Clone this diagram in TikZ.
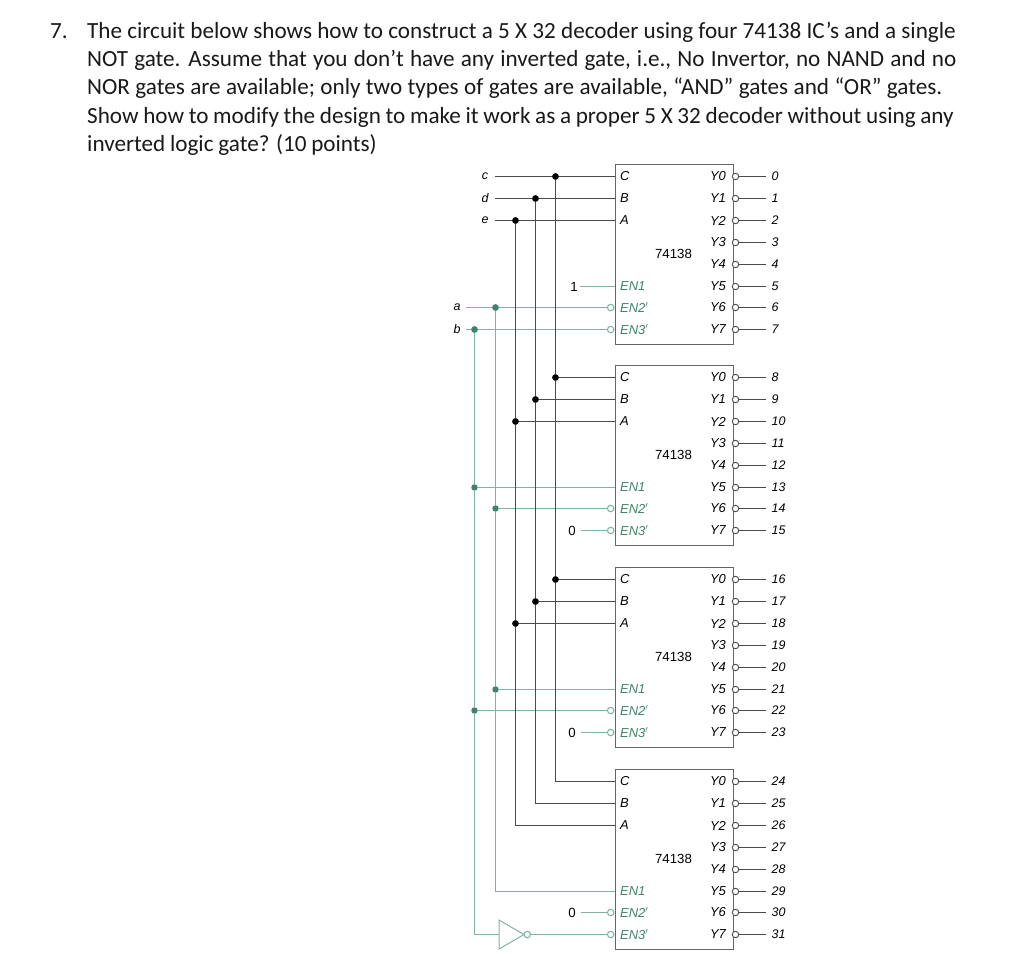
\documentclass[tikz,border=0pt]{standalone}
\usepackage{fontspec}
\setmainfont{Carlito}
\newfontfamily\helv{Liberation Sans}
\definecolor{wgreen}{HTML}{7FB5A0}
\definecolor{dgreen}{HTML}{3F8468}
\definecolor{wgray}{HTML}{4A4A4A}
\tikzset{
  chipbox/.style={draw=wgray!85,line width=1bp,fill=white,minimum width=118bp,minimum height=180bp,inner sep=0pt,anchor=north west},
  blk/.style={draw=wgray,line width=1bp},
  grn/.style={draw=wgreen,line width=1bp},
  bdot/.style={circle,fill=black,inner sep=0pt,minimum size=6.5pt},
  gdot/.style={circle,fill=dgreen,inner sep=0pt,minimum size=6.5pt},
  bubK/.style={circle,draw=wgray,fill=white,line width=0.9pt,inner sep=0pt,minimum size=6.5pt},
  bubG/.style={circle,draw=wgreen,fill=white,line width=1.1pt,inner sep=0pt,minimum size=6.5pt},
  sig/.style={font=\helv\fontsize{12.5}{14}\selectfont\itshape,inner sep=0pt},
  pinl/.style={sig,anchor=west,font=\helv\fontsize{13}{15}\selectfont\itshape},
  enl/.style={sig,anchor=west,text=dgreen,font=\helv\fontsize{13}{15}\selectfont\itshape},
  yl/.style={sig,font=\helv\fontsize{13}{15}\selectfont\itshape},
  plain/.style={font=\helv\fontsize{13.3}{15}\selectfont,inner sep=0pt},
  para/.style={font=\fontsize{23.24}{28}\selectfont,anchor=base west,inner sep=0pt,text=black!90},
}
\begin{document}
\begin{tikzpicture}[x=1bp,y=-1bp]
\useasboundingbox (0,0) rectangle (1024,954);
% heading text
\node[para] (n7) at (50,38) {7.};
\node[para] (p1) at (87,38) {The circuit below shows how to construct a 5 X 32 decoder using four 74138 IC’s and a single};
\node[para] (p2) at (87,66) {\spaceskip=6.2pt NOT gate. Assume that you don’t have any inverted gate, i.e., No Invertor, no NAND and no};
\node[para] (p3) at (87,94) {\spaceskip=5.45pt NOR gates are available; only two types of gates are available, “AND” gates and “OR” gates.};
\node[para] (p4) at (87,123) {\spaceskip=4.7pt Show how to modify the design to make it work as a proper 5 X 32 decoder without using any};
\node[para] (p5) at (87,151) {\spaceskip=4.8pt inverted logic gate? (10 points)};
% chips and pins
\foreach \n/\t in {1/163.5,2/364.5,3/566.5,4/768.5}{
  \node[chipbox] (chip\n) at (614.5,\t) {};
  \node[plain] (name\n) at (673.5,\t+90) {74138};
  \coordinate (\n C) at (614.5,\t+13);
  \coordinate (\n B) at (614.5,\t+35);
  \coordinate (\n A) at (614.5,\t+57);
  \coordinate (\n E1) at (614.5,\t+123);
  \coordinate (\n E2) at (614.5,\t+144);
  \coordinate (\n E3) at (614.5,\t+166);
  \node[pinl] (lC\n) at (620,\t+13) {C};
  \node[pinl] (lB\n) at (620,\t+35) {B};
  \node[pinl] (lA\n) at (620,\t+57) {A};
  \node[enl] (lE1\n) at (620,\t+123) {EN1};
  \node[enl] (lE2\n) at (620,\t+144) {EN2$'$};
  \node[enl] (lE3\n) at (620,\t+166) {EN3$'$};
  \node[bubG] (b2\n) at (610.7,\t+144) {};
  \node[bubG] (b3\n) at (610.7,\t+166) {};
  \foreach \k/\o in {0/13,1/35,2/57,3/79,4/101,5/123,6/144,7/166}{
    \pgfmathtruncatemacro{\num}{(\n-1)*8+\k}
    \node[yl] (y\n\k) at (718,\t+\o) {Y\k};
    \node[bubK] (yb\n\k) at (735.5,\t+\o) {};
    \node[sig,anchor=west] (out\num) at (771.5,\t+\o) {\num};
    \coordinate (oute\num) at (766,\t+\o);
    \draw[blk] (yb\n\k) -- (oute\num);
  }
}
% input labels and free ends
\node[sig] (lc) at (485,176.5) {c};
\node[sig] (ld) at (485,198.5) {d};
\node[sig] (le) at (485,220.5) {e};
\node[sig] (la) at (457,307.5) {a};
\node[sig] (lb) at (457,329.5) {b};
\coordinate (wc) at (495,176.5);
\coordinate (wd) at (495,198.5);
\coordinate (we) at (495,220.5);
\coordinate (wa) at (466,307.5);
\coordinate (wb) at (466,329.5);
% green buses first
\node[gdot] (ga1) at (495.5,307.5) {};
\node[gdot] (gb1) at (474.5,329.5) {};
\node[gdot] (gb2) at (474.5,487.5) {};
\node[gdot] (ga2) at (495.5,508.5) {};
\node[gdot] (ga3) at (495.5,689.5) {};
\node[gdot] (gb3) at (474.5,710.5) {};
\coordinate (ga4) at (495.5,891.5);
\coordinate (gb4) at (474.5,934.5);
\node[bubG] (invb) at (527.3,934.5) {};
\coordinate (invt) at (499,920);
\coordinate (invm) at (499,934.5);
\coordinate (invp) at (524,934.5);
\coordinate (invd) at (499,949);
\draw[grn] (wa) -- (b21);
\draw[grn] (wb) -- (b31);
\draw[grn] (gb1) -- (gb2) -- (gb3) -- (gb4) -- (invm);
\draw[grn] (ga1) -- (ga2) -- (ga3) -- (ga4) -- (4E1);
\draw[grn] (gb2) -- (2E1);
\draw[grn] (ga2) -- (b22);
\draw[grn] (ga3) -- (3E1);
\draw[grn] (gb3) -- (b23);
\draw[grn,fill=white] (invt) -- (invp) -- (invd) -- cycle;
\draw[grn] (invb) -- (b34);
% black buses
\node[bdot] (dc1) at (555.5,176.5) {};
\node[bdot] (dd1) at (535.5,198.5) {};
\node[bdot] (de1) at (515.5,220.5) {};
\node[bdot] (dc2) at (555.5,377.5) {};
\node[bdot] (dd2) at (535.5,399.5) {};
\node[bdot] (de2) at (515.5,421.5) {};
\node[bdot] (dc3) at (555.5,579.5) {};
\node[bdot] (dd3) at (535.5,601.5) {};
\node[bdot] (de3) at (515.5,623.5) {};
\coordinate (dc4) at (555.5,781.5);
\coordinate (dd4) at (535.5,803.5);
\coordinate (de4) at (515.5,825.5);
\draw[blk] (wc) -- (1C);
\draw[blk] (wd) -- (1B);
\draw[blk] (we) -- (1A);
\foreach \v in {c,d,e}{ \draw[blk] (d\v1) -- (d\v2) -- (d\v3) -- (d\v4); }
\draw[blk] (dc2) -- (2C);
\draw[blk] (dd2) -- (2B);
\draw[blk] (de2) -- (2A);
\draw[blk] (dc3) -- (3C);
\draw[blk] (dd3) -- (3B);
\draw[blk] (de3) -- (3A);
\draw[blk] (dc4) -- (4C);
\draw[blk] (dd4) -- (4B);
\draw[blk] (de4) -- (4A);
% constants
\node[plain] (k1) at (574,286.5) {1};
\node[plain] (k2) at (572,530.5) {0};
\node[plain] (k3) at (572,732.5) {0};
\node[plain] (k4) at (572,912.5) {0};
\coordinate (k1e) at (580,286.5);
\coordinate (k2e) at (581,530.5);
\coordinate (k3e) at (581,732.5);
\coordinate (k4e) at (581,912.5);
\draw[grn] (k1e) -- (1E1);
\draw[grn] (k2e) -- (b32);
\draw[grn] (k3e) -- (b33);
\draw[grn] (k4e) -- (b24);
% redraw dots so they sit on top
\foreach \v in {c,d,e}{ \foreach \i in {1,2,3}{ \node[bdot] at (d\v\i) {}; } }
\node[gdot] at (ga1) {};
\node[gdot] at (gb1) {};
\end{tikzpicture}
\end{document}
